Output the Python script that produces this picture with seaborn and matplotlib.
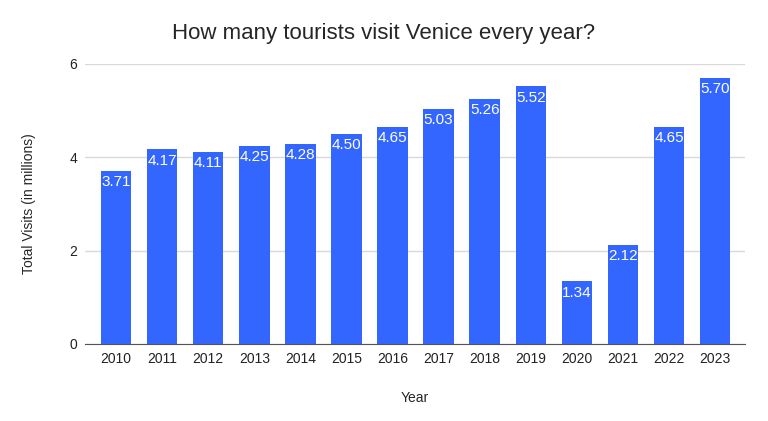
import pandas as pd
import matplotlib.pyplot as plt
import seaborn as sns

# Dữ liệu: số lượt khách du lịch tới Venice (triệu)
years = ['2010', '2011', '2012', '2013', '2014', '2015', '2016',
         '2017', '2018', '2019', '2020', '2021', '2022', '2023']
visits = [3.71, 4.17, 4.11, 4.25, 4.28, 4.50, 4.65,
          5.03, 5.26, 5.52, 1.34, 2.12, 4.65, 5.70]

df = pd.DataFrame({'Year': years, 'Visits': visits})

sns.set_style('white')
plt.rcParams['font.family'] = ['Liberation Sans', 'DejaVu Sans']

fig = plt.figure(figsize=(7.68, 4.21), dpi=100)
ax = fig.add_axes([0.111, 0.183, 0.859, 0.665])

sns.barplot(data=df, x='Year', y='Visits', color='#3366ff', width=0.66,
            saturation=1, linewidth=0, ax=ax, zorder=3)

# nhãn trắng bên trong đỉnh cột
for i, v in enumerate(visits):
    ax.text(i, v - 0.09, f'{v:.2f}', ha='center', va='top',
            color='white', fontsize=11, zorder=4)

ax.set_ylim(0, 6)
ax.set_xlim(-0.67, 13.65)
ax.set_yticks([0, 2, 4, 6])
ax.grid(axis='y', color='#d9d9d9', linewidth=1, zorder=0)
for s in ['top', 'right', 'left']:
    ax.spines[s].set_visible(False)
ax.spines['bottom'].set_color('#555555')
ax.spines['bottom'].set_zorder(5)
ax.tick_params(axis='both', length=0, labelsize=10, colors='#222222', pad=6)

ax.set_xlabel('Year', fontsize=10, labelpad=18)
ax.set_ylabel('Total Visits (in millions)', fontsize=10, labelpad=24)
fig.suptitle('How many tourists visit Venice every year?', fontsize=16,
             x=0.5, y=0.945)

fig.savefig('out.png', dpi=100)
